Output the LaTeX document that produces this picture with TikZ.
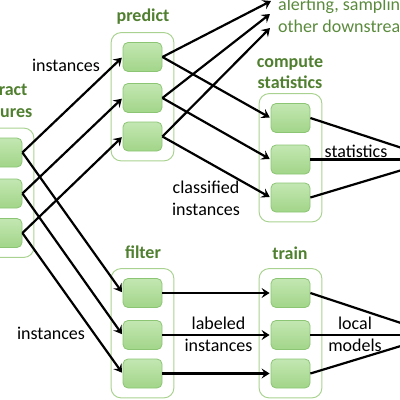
\documentclass[tikz,border=0pt]{standalone}
\usepackage{fontspec}
\setmainfont{Carlito}
\usetikzlibrary{arrows.meta,fit,positioning}
\definecolor{lblgreen}{HTML}{4F7F2F}
\definecolor{txtgreen}{HTML}{5A8A3C}
\definecolor{boxtop}{HTML}{C3E7B2}
\definecolor{boxbot}{HTML}{A2D589}
\definecolor{boxedge}{HTML}{8CC574}
\definecolor{contedge}{HTML}{A9D290}
\tikzset{
  cell/.style={draw=boxedge, line width=0.8pt, rounded corners=5pt, top color=boxtop, bottom color=boxbot,
    minimum width=39pt, minimum height=29pt, inner sep=0pt},
  group/.style={draw=contedge, line width=1pt, rounded corners=10pt, fill=none, inner xsep=11.5pt, inner ysep=9.5pt},
  title/.style={font=\fontsize{18}{21.5}\selectfont\bfseries, text=lblgreen, align=center, inner sep=0pt},
  lbl/.style={font=\fontsize{18}{22}\selectfont, align=center, inner sep=0pt},
  flow/.style={line width=2.2pt, -{Stealth[length=8pt,width=10pt,inset=3pt]}, shorten >=1pt},
  plain/.style={line width=2.2pt}
}
\begin{document}
\begin{tikzpicture}[x=1pt,y=-1pt]
\useasboundingbox (0,0) rectangle (400,400);
\clip (0,0) rectangle (400,400);
% cells
\node[cell] (e1) at (2.5,152.5) {};
\node[cell] (e2) at (2.5,193.5) {};
\node[cell] (e3) at (2.5,233) {};
\node[cell] (p1) at (142.5,57) {};
\node[cell] (p2) at (142.5,98) {};
\node[cell] (p3) at (142.5,136.5) {};
\node[cell] (c1) at (290.5,118) {};
\node[cell] (c2) at (290.5,159.5) {};
\node[cell] (c3) at (290.5,197.5) {};
\node[cell] (f1) at (142.5,293) {};
\node[cell] (f2) at (142.5,335) {};
\node[cell] (f3) at (142.5,373.5) {};
\node[cell] (t1) at (290.5,293) {};
\node[cell] (t2) at (290.5,335) {};
\node[cell] (t3) at (290.5,373.5) {};
% groups
\node[group, fit=(e1)(e3)] (ge) {};
\node[group, fit=(p1)(p3)] (gp) {};
\node[group, fit=(c1)(c3)] (gc) {};
\node[group, fit=(f1)(f3)] (gf) {};
\node[group, fit=(t1)(t3)] (gt) {};
% titles
\node[title] (te) at (1.5,101) {extract\\features};
\node[title] (tp) at (143,17) {predict};
\node[title] (tc) at (290,72.5) {compute\\statistics};
\node[title] (tf) at (143,252) {filter};
\node[title] (tt) at (290,253) {train};
\node[lbl, text=txtgreen, anchor=west, align=left] (down) at (278,15) {alerting, sampling,\\other downstream};
% labels
\node[lbl] (l1) at (66,65) {instances};
\node[lbl] (l2) at (51,333) {instances};
\node[lbl] (l3) at (206,198.5) {classified\\instances};
\node[lbl] (l4) at (218.5,334) {labeled\\instances};
\node[lbl] (l5) at (356,151) {statistics};
\node[lbl] (l6) at (355,334.5) {local\\models};
% free ends
\coordinate (o1) at (271,1);
\coordinate (o2) at (270,14);
\coordinate (o3) at (270,28);
\coordinate (S) at (437,159.5);
\coordinate (L) at (437,335);
% connectors
\foreach \i in {1,2,3}{
  \draw[flow] (e\i.east) -- (p\i.west);
  \draw[flow] (e\i.east) -- (f\i.west);
  \draw[flow, shorten >=0pt] (p\i.east) -- (o\i);
  \draw[flow] (p\i.east) -- (c\i.west);
  \draw[flow] (f\i.east) -- (t\i.west);
  \draw[plain] (c\i.east) -- (S);
  \draw[plain] (t\i.east) -- (L);
}
\end{tikzpicture}
\end{document}
